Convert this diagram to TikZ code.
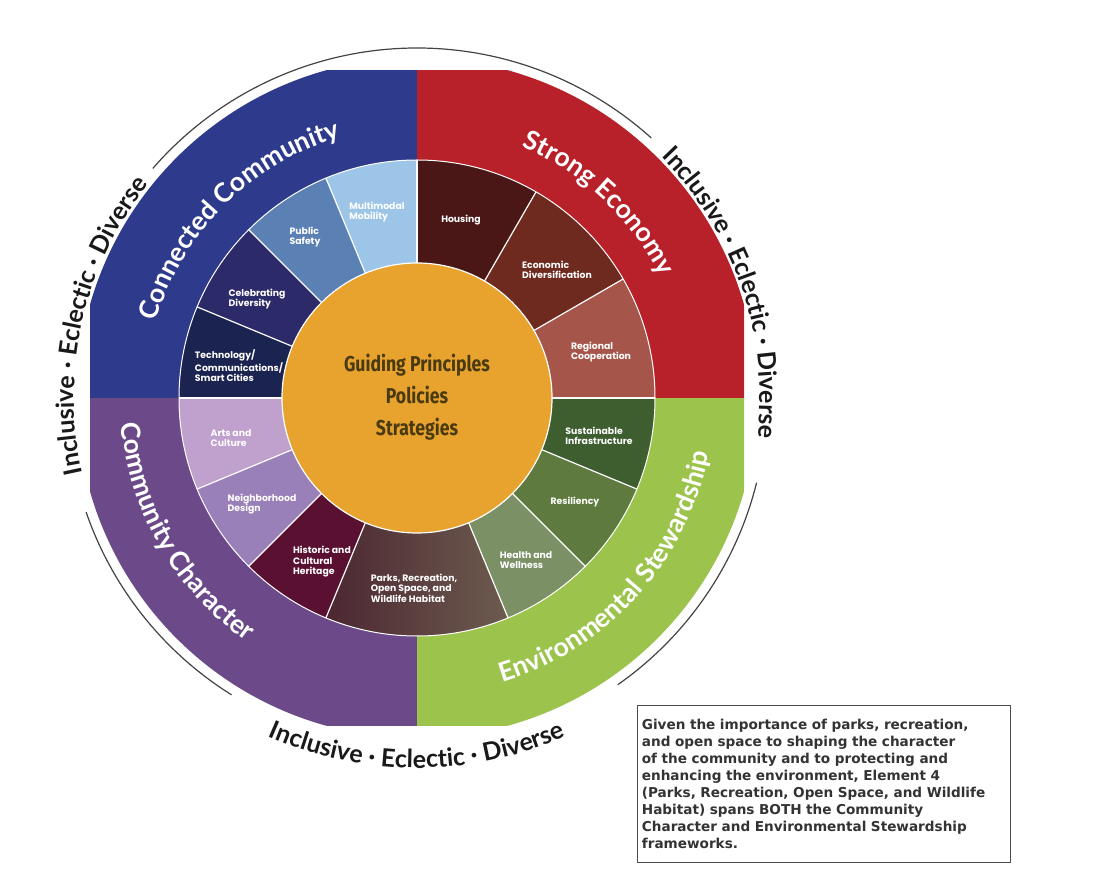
\documentclass[tikz,border=0pt]{standalone}
\usepackage{fontspec}
\setmainfont{Lato}
\newfontfamily\segfont{Poppins}
\newfontfamily\ctrfont{Fira Sans}
\newfontfamily\boxfont{DejaVu Sans}
\usetikzlibrary{decorations.text}
\definecolor{qblue}{HTML}{2E3A8C}
\definecolor{qred}{HTML}{B8202A}
\definecolor{qgreen}{HTML}{9CC44C}
\definecolor{qpurple}{HTML}{6C4A8A}
\definecolor{cOrange}{HTML}{E8A22E}
\definecolor{ctrtext}{HTML}{4A3A12}
\definecolor{sMulti}{HTML}{9DC5E8}
\definecolor{sSafety}{HTML}{5B80B4}
\definecolor{sCeleb}{HTML}{2D2A6A}
\definecolor{sTech}{HTML}{1B2450}
\definecolor{sHousing}{HTML}{4A1616}
\definecolor{sEcon}{HTML}{6E2A1E}
\definecolor{sRegion}{HTML}{A5554A}
\definecolor{sSust}{HTML}{3E5E30}
\definecolor{sResil}{HTML}{5E7A3E}
\definecolor{sHealth}{HTML}{7C9066}
\definecolor{sParksL}{HTML}{4A2430}
\definecolor{sParksR}{HTML}{6E5E50}
\definecolor{sHist}{HTML}{5A1030}
\definecolor{sNeigh}{HTML}{9A80B8}
\definecolor{sArts}{HTML}{C0A0CC}
\definecolor{arcgray}{HTML}{444444}
\newcommand\mysector[3]{% color, a1, a2
  \fill[#1] (#2:135) arc[start angle=#2,end angle=#3,radius=135] -- (#3:238) arc[start angle=#3,end angle=#2,radius=238] -- cycle;}
\tikzset{
  seg/.style={text=white,font=\segfont\bfseries\fontsize{9.3}{10.5}\selectfont,align=left,anchor=center},
  divider/.style={white,line width=1.2pt},
  outertext/.style={decorate,decoration={text effects along path,text align=center,
     text effects/.cd,text along path, characters={text=black!90,font=\bfseries\fontsize{25}{25}\selectfont}}},
  quadtext/.style={decorate,decoration={text effects along path,text align=center,
     text effects/.cd,text along path, characters={text=white,font=\bfseries\fontsize{26.5}{26.5}\selectfont}}},
  grayarc/.style={arcgray,line width=1.2pt}
}
\begin{document}
\begin{tikzpicture}[x=1pt,y=1pt]
\useasboundingbox (0,0) rectangle (1096,-882);
\fill[white] (0,0) rectangle (1096,-882);
\begin{scope}[shift={(417,-398)}]
  \coordinate (C) at (0,0);
  \begin{scope}
    \clip (0,0) circle (340);
    \clip (-327,-327) rectangle (327,327);
    \fill[qblue] (0,0) rectangle (-330,330);
    \fill[qred] (0,0) rectangle (330,330);
    \fill[qgreen] (0,0) rectangle (330,-330);
    \fill[qpurple] (0,0) rectangle (-330,-330);
  \end{scope}
  \mysector{sMulti}{90}{112.5}
  \mysector{sSafety}{112.5}{135}
  \mysector{sCeleb}{135}{157.5}
  \mysector{sTech}{157.5}{180}
  \mysector{sHousing}{60}{90}
  \mysector{sEcon}{30}{60}
  \mysector{sRegion}{0}{30}
  \mysector{sSust}{-22.5}{0}
  \mysector{sResil}{-45}{-22.5}
  \mysector{sHealth}{-67.5}{-45}
  \begin{scope}
    \clip (-67.5:135) arc[start angle=-67.5,end angle=-112.5,radius=135] -- (-112.5:238) arc[start angle=-112.5,end angle=-67.5,radius=238] -- cycle;
    \shade[left color=sParksL,right color=sParksR] (-100,-240) rectangle (100,-120);
  \end{scope}
  \mysector{sHist}{-135}{-112.5}
  \mysector{sNeigh}{-157.5}{-135}
  \mysector{sArts}{-180}{-157.5}
  \foreach \a in {90,112.5,135,157.5,180,60,30,0,-22.5,-45,-67.5,-112.5,-135,-157.5}
    \draw[divider] (\a:135) -- (\a:238);
  \draw[white,line width=1pt] (0,0) circle (238);
  \fill[cOrange] (0,0) circle (135);
  \draw[white,line width=1.2pt] (0,0) circle (135);
  \node[font=\ctrfont\bfseries\fontsize{21.5}{32}\selectfont,text=ctrtext,align=center,xscale=0.82] (ctr) at (0,1) {Guiding Principles\\Policies\\Strategies};
  \node[seg] (multi) at (-40,186) {Multimodal\\Mobility};
  \node[seg] (safety) at (-112,161) {Public\\Safety};
  \node[seg] (celeb) at (-160,99) {Celebrating\\Diversity};
  \node[seg] (tech) at (-178,32) {Technology/\\Communications/\\Smart Cities};
  \node[seg] (housing) at (44,178) {Housing};
  \node[seg] (econ) at (140,128) {Economic\\Diversification};
  \node[seg] (region) at (184,46) {Regional\\Cooperation};
  \node[seg] (sust) at (182,-38) {Sustainable\\Infrastructure};
  \node[seg] (resil) at (158,-104) {Resiliency};
  \node[seg] (health) at (109,-162) {Health and\\Wellness};
  \node[seg] (parks) at (-3,-190) {Parks, Recreation,\\Open Space, and\\Wildlife Habitat};
  \node[seg] (hist) at (-95,-164) {Historic and\\Cultural\\Heritage};
  \node[seg] (neigh) at (-155,-106) {Neighborhood\\Design};
  \node[seg] (arts) at (-186,-40) {Arts and\\Culture};
  \path[quadtext,decoration={text={Connected Community}}] (177:272) arc[start angle=177,end angle=93,radius=272];
  \path[quadtext,decoration={text={Strong Economy}}] (89:272) arc[start angle=89,end angle=5,radius=272];
  \path[quadtext,decoration={text={Environmental Stewardship}}] (-95:297) arc[start angle=-95,end angle=11,radius=297];
  \path[quadtext,decoration={text={Community Character}}] (-208:297) arc[start angle=-208,end angle=-92,radius=297];
  \path[outertext,decoration={text={Inclusive · Eclectic · Diverse}}] (215:343) arc[start angle=215,end angle=119,radius=343];
  \path[outertext,decoration={text={Inclusive · Eclectic · Diverse}}] (67:343) arc[start angle=67,end angle=-29,radius=343];
  \path[outertext,decoration={text={Inclusive · Eclectic · Diverse}}] (-138:370) arc[start angle=-138,end angle=-42,radius=370];
  \draw[grayarc] (139:350) arc[start angle=139,end angle=48,radius=350];
  \draw[grayarc] (-14:350) arc[start angle=-14,end angle=-55,radius=350];
  \draw[grayarc] (199:350) arc[start angle=199,end angle=238,radius=350];
\end{scope}
\node[draw=black!70,line width=0.8pt,fill=white,anchor=north west,inner sep=0pt,minimum width=373,minimum height=157,text width=364,align=left,font=\boxfont\bfseries\fontsize{13.6}{17}\selectfont,text=black!80] (note) at (637,-705)
{Given the importance of parks, recreation,\\and open space to shaping the character\\of the community and to protecting and\\enhancing the environment, Element 4\\(Parks, Recreation, Open Space, and Wildlife\\Habitat) spans BOTH the Community\\Character and Environmental Stewardship\\frameworks.};
\end{tikzpicture}
\end{document}
